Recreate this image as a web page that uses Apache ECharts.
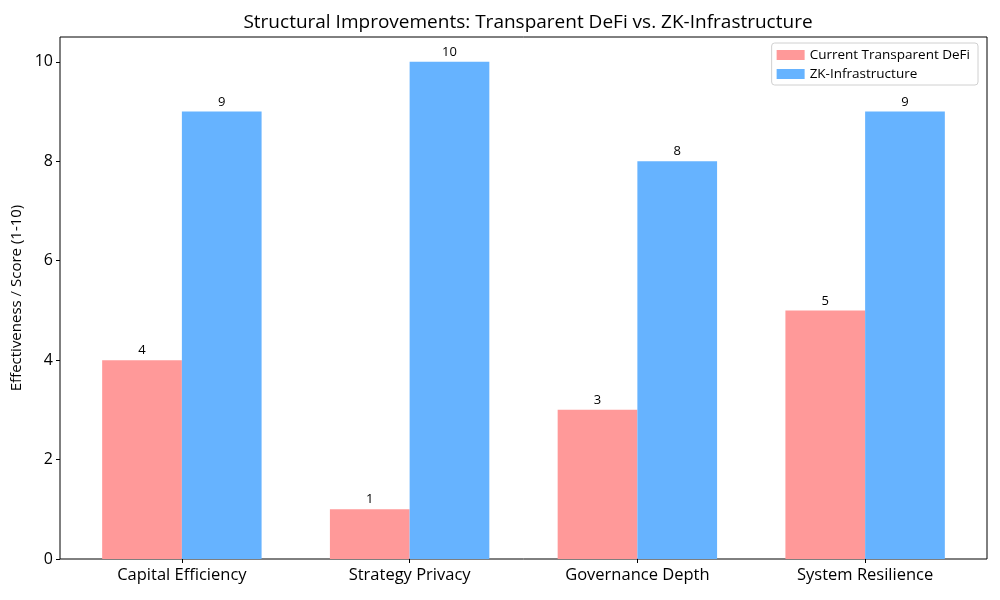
<!DOCTYPE html>
<html>
<head>
<meta charset="utf-8">
<script src="https://cdn.jsdelivr.net/npm/echarts@6/dist/echarts.min.js"></script>
<style>html,body{margin:0;padding:0;background:#fff}#c{width:1000px;height:600px}</style>
</head>
<body>
<div id="c"></div>
<script>
const categories = ['Capital Efficiency', 'Strategy Privacy', 'Governance Depth', 'System Resilience'];
const transparentDeFi = [4, 1, 3, 5];
const zkInfra = [9, 10, 8, 9];
const yTicks = [0, 2, 4, 6, 8, 10];

const FONT = '"Open Sans", Roboto, sans-serif';
const chart = echarts.init(document.getElementById('c'));
chart.setOption({
  animation: false,
  textStyle: { fontFamily: FONT },
  title: {
    text: 'Structural Improvements: Transparent DeFi vs. ZK-Infrastructure',
    left: 523, top: 8, textAlign: 'center',
    textStyle: { fontSize: 19, fontWeight: 'normal', color: '#000', fontFamily: FONT }
  },
  legend: {
    orient: 'vertical', right: 22, top: 43,
    itemWidth: 28, itemHeight: 10, itemGap: 5,
    padding: [5, 8, 4, 5],
    borderColor: '#d0d0d0', borderWidth: 1, borderRadius: 3,
    backgroundColor: '#fff',
    textStyle: { fontSize: 13.5, color: '#000', fontFamily: FONT },
    icon: 'rect',
    data: ['Current Transparent DeFi', 'ZK-Infrastructure']
  },
  grid: [
    { left: 60, right: 13, top: 37, bottom: 41, show: true, borderColor: '#000', borderWidth: 1, backgroundColor: 'transparent' },
    { left: 68, right: 21, top: 37, bottom: 41 }
  ],
  xAxis: [
    { gridIndex: 0, type: 'value', show: false, min: 0, max: 1 },
    { gridIndex: 1, type: 'category', data: categories,
      axisLine: { show: false },
      axisTick: { show: true, alignWithLabel: true, length: 4, lineStyle: { color: '#000' } },
      axisLabel: { fontSize: 16.5, color: '#000', margin: 8, fontFamily: FONT } }
  ],
  yAxis: [
    { gridIndex: 0, type: 'value', show: false, min: 0, max: 1 },
    { gridIndex: 1, type: 'value', min: 0, max: 10.5, interval: 2, offset: 8,
      axisLine: { show: false },
      axisTick: { show: true, length: 4, lineStyle: { color: '#000' }, customValues: yTicks },
      splitLine: { show: false },
      axisLabel: { fontSize: 16, color: '#000', margin: 7, fontFamily: FONT, customValues: yTicks },
      name: 'Effectiveness / Score (1-10)', nameLocation: 'middle', nameGap: 34,
      nameTextStyle: { fontSize: 15, color: '#000', fontFamily: FONT } }
  ],
  series: [
    { name: 'Current Transparent DeFi', type: 'bar', xAxisIndex: 1, yAxisIndex: 1,
      data: transparentDeFi, barWidth: '35%', barGap: '0%',
      itemStyle: { color: '#ff9999' },
      label: { show: true, position: 'top', distance: 3, fontSize: 13, color: '#000', fontFamily: FONT } },
    { name: 'ZK-Infrastructure', type: 'bar', xAxisIndex: 1, yAxisIndex: 1,
      data: zkInfra, barWidth: '35%', barGap: '0%',
      itemStyle: { color: '#66b3ff' },
      label: { show: true, position: 'top', distance: 3, fontSize: 13, color: '#000', fontFamily: FONT } }
  ]
});
</script>
</body>
</html>
